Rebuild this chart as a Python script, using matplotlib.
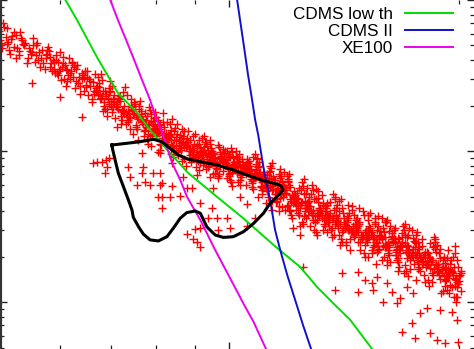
import matplotlib
matplotlib.use('Agg')
import matplotlib.pyplot as plt
from matplotlib.ticker import LogLocator, NullFormatter

# WIMP mass in GeV, cross section in units of 1e-40 cm^2

# signal-like events, one row per mass bin
band_mass_rows = [
    [4.95, 5.06, 5.01, 4.98, 5.03, 4.94, 5.05, 5.00, 4.97, 5.02],
    [5.17, 5.14, 5.22, 5.10, 5.19, 5.15, 5.11, 5.12, 5.21, 5.09],
    [5.27, 5.35, 5.30, 5.25, 5.36, 5.29, 5.33, 5.24, 5.38, 5.31],
    [5.47, 5.55, 5.40, 5.49, 5.53, 5.44, 5.46, 5.52, 5.42, 5.51],
    [5.61, 5.68, 5.64, 5.59, 5.58, 5.70, 5.63, 5.66, 5.57, 5.72],
    [5.75, 5.88, 5.80, 5.84, 5.74, 5.90, 5.78, 5.86, 5.82, 5.77, 5.89, 5.81, 5.85, 5.76],
    [6.08, 5.96, 6.04, 6.00, 5.95, 6.07, 5.99, 6.03, 5.94, 5.93, 6.05, 5.98, 6.02, 5.92],
    [6.17, 6.21, 6.12, 6.11, 6.24, 6.16, 6.20, 6.10, 6.26, 6.14, 6.22, 6.18, 6.13, 6.25],
    [6.40, 6.28, 6.46, 6.33, 6.42, 6.37, 6.31, 6.45, 6.36, 6.41, 6.30, 6.29, 6.44, 6.35],
    [6.57, 6.51, 6.65, 6.56, 6.61, 6.50, 6.49, 6.64, 6.55, 6.60, 6.48, 6.66, 6.53, 6.62],
    [6.69, 6.84, 6.75, 6.80, 6.68, 6.86, 6.73, 6.82, 6.77, 6.71, 6.85, 6.76, 6.81, 6.70,
     6.79, 6.74, 6.83, 6.72, 6.78, 6.87],
    [7.03, 6.97, 6.91, 7.06, 6.96, 7.02, 6.90, 6.99, 6.94, 7.04, 6.92, 6.98, 7.01, 6.89,
     7.05, 6.95, 7.00, 6.88, 7.07, 6.93],
    [7.11, 7.20, 7.15, 7.26, 7.13, 7.21, 7.25, 7.10, 7.27, 7.16, 7.22, 7.09, 7.29, 7.14,
     7.24, 7.19, 7.12, 7.28, 7.18, 7.23],
    [7.31, 7.51, 7.36, 7.46, 7.41, 7.34, 7.50, 7.40, 7.45, 7.33, 7.42, 7.37, 7.48, 7.35,
     7.43, 7.47, 7.32, 7.49, 7.38, 7.44],
    [7.71, 7.57, 7.66, 7.70, 7.54, 7.72, 7.60, 7.67, 7.53, 7.74, 7.58, 7.69, 7.63, 7.56,
     7.73, 7.62, 7.68, 7.55, 7.65, 7.59],
    [7.77, 7.96, 7.83, 7.90, 7.76, 7.98, 7.81, 7.93, 7.86, 7.79, 7.97, 7.85, 7.91, 7.78,
     7.88, 7.82, 7.95, 7.80, 7.89, 7.94, 7.84, 7.92, 7.87, 7.99],
    [8.03, 8.22, 8.09, 8.15, 8.02, 8.12, 8.06, 8.19, 8.04, 8.13, 8.18, 8.08, 8.16, 8.11,
     8.20, 8.01, 8.21, 8.07, 8.14, 8.00, 8.23, 8.05, 8.17, 8.10],
    [8.29, 8.38, 8.42, 8.33, 8.39, 8.36, 8.45, 8.26, 8.46, 8.32, 8.40, 8.25, 8.48, 8.30,
     8.43, 8.35, 8.28, 8.47, 8.34, 8.41, 8.27, 8.37, 8.31, 8.44],
    [8.74, 8.55, 8.68, 8.61, 8.53, 8.73, 8.59, 8.66, 8.52, 8.63, 8.56, 8.70, 8.54, 8.64,
     8.69, 8.58, 8.67, 8.62, 8.71, 8.51, 8.72, 8.57, 8.65, 8.50],
    [8.89, 8.82, 8.97, 8.80, 8.90, 8.96, 8.84, 8.94, 8.88, 8.98, 8.77, 8.99, 8.83, 8.92,
     8.76, 9.01, 8.81, 8.95, 8.87, 8.79, 9.00, 8.86, 8.93, 8.78],
    [9.04, 9.27, 9.10, 9.19, 9.03, 9.29, 9.08, 9.22, 9.14, 9.06, 9.28, 9.13, 9.20, 9.05,
     9.16, 9.09, 9.24, 9.07, 9.17, 9.23, 9.11, 9.21, 9.15, 9.26, 9.12, 9.18, 9.25, 9.16],
    [9.57, 9.36, 9.50, 9.42, 9.34, 9.56, 9.41, 9.48, 9.33, 9.44, 9.37, 9.52, 9.35, 9.45,
     9.51, 9.39, 9.49, 9.43, 9.54, 9.40, 9.46, 9.53, 9.44, 9.32, 9.55, 9.38, 9.47, 9.31],
    [9.70, 9.77, 9.61, 9.73, 9.65, 9.81, 9.63, 9.74, 9.80, 9.67, 9.78, 9.72, 9.83, 9.68,
     9.75, 9.82, 9.69, 9.60, 9.84, 9.66, 9.76, 9.59, 9.86, 9.64, 9.79, 9.71, 9.62, 9.85],
    [9.92, 10.03, 10.10, 9.96, 10.08, 10.01, 10.14, 9.97, 10.04, 10.12, 9.98, 9.89, 10.15, 9.95,
     10.06, 9.88, 10.17, 9.93, 10.09, 10.00, 9.91, 10.16, 9.99, 10.07, 9.90, 10.02, 9.94, 10.11],
    [10.45, 10.29, 10.35, 10.43, 10.26, 10.20, 10.46, 10.27, 10.37, 10.19, 10.48, 10.24, 10.40, 10.31,
     10.22, 10.47, 10.30, 10.38, 10.21, 10.33, 10.25, 10.42, 10.23, 10.34, 10.41, 10.28, 10.39, 10.32],
    [10.58, 10.69, 10.50, 10.80, 10.55, 10.72, 10.63, 10.53, 10.79, 10.62, 10.70, 10.52, 10.65, 10.56,
     10.74, 10.54, 10.66, 10.73, 10.59, 10.71, 10.64, 10.77, 10.60, 10.67, 10.75, 10.57, 10.51, 10.78],
    [10.95, 10.85, 11.12, 10.94, 11.02, 10.84, 10.97, 10.88, 11.06, 10.86, 10.98, 11.05, 10.91, 11.03,
     10.96, 11.10, 10.92, 10.99, 11.07, 10.89, 10.83, 11.11, 10.90, 11.01, 10.82, 11.13, 10.87, 11.04],
    [11.30, 11.21, 11.40, 11.19, 11.31, 11.39, 11.24, 11.37, 11.29, 11.44, 11.25, 11.33, 11.42, 11.22,
     11.16, 11.45, 11.23, 11.35, 11.15, 11.47, 11.20, 11.38, 11.28, 11.18, 11.46, 11.27, 11.36, 11.17],
    [11.59, 11.72, 11.64, 11.80, 11.60, 11.68, 11.78, 11.57, 11.50, 11.81, 11.58, 11.70, 11.49, 11.83,
     11.55, 11.74, 11.63, 11.52, 11.82, 11.62, 11.71, 11.51, 11.65, 11.56, 11.76, 11.54, 11.66, 11.75],
    [12.14, 11.93, 11.86, 12.17, 11.94, 12.06, 11.85, 12.19, 11.91, 12.10, 11.99, 11.88, 12.18, 11.98,
     12.07, 11.87, 12.01, 11.92, 12.12, 11.90, 12.02, 12.11, 11.95, 12.08, 12.00, 12.16, 11.96, 12.04],
    [12.43, 12.21, 12.56, 12.27, 12.47, 12.35, 12.24, 12.55, 12.34, 12.44, 12.23, 12.37, 12.28, 12.49,
     12.26, 12.38, 12.48, 12.31, 12.45, 12.36, 12.53, 12.32, 12.40, 12.51, 12.29, 12.22, 12.54, 12.30],
    [12.61, 12.94, 12.71, 12.82, 12.60, 12.74, 12.65, 12.87, 12.63, 12.75, 12.86, 12.68, 12.83, 12.73,
     12.91, 12.69, 12.78, 12.89, 12.66, 12.59, 12.93, 12.67, 12.81, 12.58, 12.95, 12.64, 12.85, 12.72],
    [13.04, 13.27, 13.02, 13.14, 13.26, 13.07, 13.23, 13.12, 13.31, 13.08, 13.17, 13.29, 13.05, 12.98,
     13.33, 13.06, 13.21, 12.97, 13.35, 13.03, 13.25, 13.11, 13.00, 13.34, 13.10, 13.22, 12.99, 13.13],
    [13.63, 13.52, 13.72, 13.48, 13.57, 13.70, 13.45, 13.38, 13.74, 13.46, 13.61, 13.37, 13.76, 13.43,
     13.65, 13.51, 13.40, 13.75, 13.50, 13.62, 13.39, 13.53, 13.44, 13.67, 13.42, 13.54, 13.66, 13.47],
    [13.86, 13.79, 14.16, 13.87, 14.03, 13.78, 14.18, 13.84, 14.07, 13.93, 13.81, 14.17, 13.92, 14.04,
     13.80, 13.95, 13.85, 14.09, 13.83, 13.96, 14.08, 13.88, 14.05, 13.94, 14.14, 13.89, 13.99, 14.12],
    [14.20, 14.62, 14.27, 14.50, 14.36, 14.23, 14.61, 14.35, 14.47, 14.22, 14.38, 14.28, 14.52, 14.26,
     14.39, 14.51, 14.31, 14.48, 14.37, 14.58, 14.32, 14.42, 14.56, 14.29, 14.21, 14.60, 14.30, 14.46],
    [15.06, 14.79, 14.92, 14.66, 14.82, 14.72, 14.97, 14.70, 14.83, 14.96, 14.75, 14.93, 14.81, 15.03,
     14.76, 14.87, 15.01, 14.73, 14.65, 15.05, 14.74, 14.91, 14.64, 15.07, 14.71, 14.95, 14.80, 14.67],
    [15.43, 15.16, 15.29, 15.42, 15.21, 15.39, 15.27, 15.49, 15.22, 15.33, 15.47, 15.19, 15.10, 15.51,
     15.20, 15.37, 15.09, 15.53, 15.17, 15.41, 15.26, 15.12, 15.52, 15.25, 15.38, 15.11, 15.28, 15.18],
    [15.73, 15.96, 15.68, 15.80, 15.94, 15.65, 15.56, 15.98, 15.66, 15.84, 15.55, 16.00, 15.63, 15.88,
     15.72, 15.58, 15.99, 15.71, 15.85, 15.57, 15.74, 15.64, 15.90, 15.62, 15.75, 15.89, 15.67, 15.86],
    [16.48, 16.13, 16.32, 16.02, 16.50, 16.10, 16.36, 16.20, 16.05, 16.49, 16.19, 16.33, 16.04, 16.22,
     16.11, 16.38, 16.09, 16.23, 16.37, 16.14, 16.34, 16.21, 16.46, 16.15, 16.27, 16.44, 16.12, 16.03],
    [16.86, 16.70, 16.55, 16.99, 16.69, 16.83, 16.54, 16.72, 16.61, 16.88, 16.59, 16.73, 16.87, 16.64,
     16.84, 16.71, 16.96, 16.65, 16.77, 16.94, 16.62, 16.53, 16.98, 16.63, 16.82, 16.52, 17.00, 16.60],
    [17.04, 17.24, 17.12, 17.41, 17.10, 17.25, 17.40, 17.15, 17.36, 17.23, 17.49, 17.16, 17.29, 17.47,
     17.13, 17.03, 17.51, 17.14, 17.34, 17.02, 17.53, 17.11, 17.39, 17.22, 17.06, 17.52, 17.21, 17.35],
    [17.94, 17.68, 17.90, 17.76, 18.03, 17.69, 17.82, 18.01, 17.66, 17.56, 18.05, 17.67, 17.88, 17.55,
     18.07, 17.64, 17.92, 17.75, 17.59, 18.06, 17.74, 17.89, 17.57, 17.77, 17.65, 17.95, 17.63, 17.78],
    [18.37, 18.56, 18.20, 18.10, 18.60, 18.21, 18.43, 18.09, 18.62, 18.18, 18.47, 18.30, 18.13, 18.61,
     18.29, 18.44, 18.11, 18.32, 18.19, 18.50, 18.17, 18.33, 18.49, 18.22, 18.45, 18.31, 18.58, 18.23],
    [18.74, 19.04, 18.86, 18.68, 19.18, 18.85, 19.01, 18.66, 18.88, 18.75, 19.07, 18.73, 18.89, 19.06,
     18.78, 19.02, 18.87, 19.15, 18.79, 18.94, 19.13, 18.76, 18.65, 19.17, 18.77, 19.00, 18.64, 19.19],
    [19.59, 19.23, 19.46, 19.32, 19.66, 19.30, 19.47, 19.65, 19.36, 19.60, 19.45, 19.74, 19.37, 19.52,
     19.71, 19.33, 19.22, 19.76, 19.35, 19.58, 19.21, 19.78, 19.31, 19.63, 19.44, 19.25, 19.77, 19.43],
    [19.83, 20.13, 19.92, 20.03, 19.82, 19.95, 19.87, 19.81, 20.12, 19.88, 20.02, 19.80, 20.14, 19.86,
     20.05, 19.93],
]
band_sigma_rows = [
    [5.9, 6.6, 5.2, 6.2, 4.8, 5.6, 7.0, 5.4, 6.4, 5.0],
    [5.5, 4.7, 6.1, 5.1, 5.8, 4.4, 6.5, 5.3, 4.9, 5.7],
    [4.8, 5.4, 4.3, 5.9, 5.1, 4.6, 5.6, 4.1, 5.0, 6.1],
    [4.6, 3.9, 5.2, 4.4, 5.6, 4.1, 4.8, 5.0, 3.8, 4.5],
    [4.0, 4.7, 3.6, 5.2, 4.3, 3.8, 4.5, 4.1, 5.0, 3.5],
    [4.1, 3.5, 4.6, 3.8, 4.3, 3.3, 4.9, 4.0, 3.6, 4.4, 3.9, 4.2, 3.4, 4.7],
    [3.7, 3.2, 4.2, 3.5, 3.9, 3.0, 4.5, 3.6, 3.3, 4.0, 3.8, 3.4, 2.95, 4.3],
    [3.3, 3.8, 2.9, 3.5, 3.1, 4.1, 3.4, 2.7, 3.6, 3.2, 3.9, 3.0, 3.45, 3.7],
    [3.0, 2.6, 3.4, 2.8, 3.2, 2.4, 3.7, 3.05, 2.7, 3.3, 2.9, 3.5, 2.5, 3.1],
    [2.7, 3.1, 2.4, 2.9, 2.2, 3.4, 2.75, 2.5, 3.0, 2.1, 2.65, 3.25, 2.35, 2.85],
    [2.45, 2.1, 2.8, 2.3, 2.6, 1.9, 3.1, 2.5, 2.2, 2.7, 2.0, 2.4, 2.95, 2.55,
     2.25, 2.65, 1.85, 2.35, 3.25, 2.5],
    [2.2, 2.5, 1.9, 2.35, 2.05, 2.7, 1.7, 2.15, 2.45, 1.95, 2.25, 2.9, 1.8, 2.3,
     2.1, 2.6, 2.0, 2.4, 1.65, 2.2],
    [1.95, 1.7, 2.25, 1.85, 2.1, 1.5, 2.45, 2.0, 1.75, 2.2, 1.6, 2.05, 2.65, 1.9,
     1.8, 2.3, 1.45, 1.98, 2.15, 1.88],
    [1.8, 2.05, 1.55, 1.9, 1.65, 2.35, 1.75, 1.4, 1.95, 1.7, 2.2, 1.85, 1.3, 1.6,
     2.0, 1.78, 1.5, 2.1, 1.68, 1.88],
    [1.6, 1.4, 1.85, 1.5, 1.72, 1.25, 2.0, 1.63, 1.45, 1.78, 1.18, 1.55, 2.15, 1.68,
     1.35, 1.9, 1.58, 1.48, 1.75, 1.62],
    [1.45, 1.65, 1.3, 1.55, 1.38, 1.8, 1.12, 1.5, 1.25, 1.7, 1.42, 1.95, 1.35, 1.6,
     1.08, 1.48, 1.58, 1.2, 1.75, 1.4, 1.52, 1.28, 1.88, 1.46],
    [1.32, 1.15, 1.48, 1.22, 1.38, 1.02, 1.6, 1.28, 1.42, 1.1, 1.78, 1.35, 1.18, 1.52,
     1.3, 1.25, 1.45, 0.99, 1.4, 1.68, 1.2, 1.33, 1.55, 1.12],
    [1.22, 1.38, 1.08, 1.28, 0.95, 1.5, 1.18, 1.32, 1.02, 1.25, 1.62, 1.15, 1.42, 1.2,
     0.92, 1.3, 1.12, 1.35, 1.24, 1.05, 1.55, 1.19, 1.27, 1.1],
    [1.12, 0.98, 1.25, 1.05, 1.3, 0.88, 1.16, 1.4, 1.08, 1.2, 0.94, 1.14, 1.5, 1.02,
     1.22, 1.1, 0.86, 1.28, 1.06, 1.18, 1.35, 1.0, 1.13, 1.24],
    [1.03, 1.15, 0.92, 1.08, 0.85, 1.25, 1.0, 0.96, 1.18, 1.05, 0.8, 1.12, 1.35, 0.98,
     1.06, 0.9, 1.22, 1.02, 0.94, 1.1, 1.3, 0.88, 1.04, 1.14],
    [0.96, 1.06, 0.86, 1.0, 0.78, 1.15, 0.93, 1.02, 0.83, 1.1, 0.97, 0.75, 1.22, 0.9,
     1.04, 0.95, 0.81, 1.08, 0.99, 0.88, 1.18, 0.94, 1.0, 0.84, 1.12, 0.91, 1.26, 0.98],
    [0.9, 0.8, 1.0, 0.87, 1.08, 0.72, 0.94, 0.84, 1.15, 0.92, 0.78, 0.97, 0.89, 1.04,
     0.7, 0.93, 0.85, 1.12, 0.95, 0.82, 0.99, 0.88, 1.18, 0.76, 0.91, 1.02, 0.86, 0.96],
    [0.85, 0.95, 0.77, 0.9, 0.68, 1.03, 0.83, 0.88, 0.74, 1.1, 0.86, 0.8, 0.97, 0.7,
     0.92, 0.84, 1.06, 0.79, 0.87, 0.66, 0.93, 0.82, 1.0, 0.76, 0.89, 0.98, 0.81, 0.86],
    [0.8, 0.72, 0.9, 0.76, 0.98, 0.64, 0.84, 0.78, 1.05, 0.82, 0.7, 0.88, 0.79, 0.93,
     0.62, 0.85, 0.75, 1.0, 0.81, 0.68, 0.87, 0.77, 0.95, 0.73, 0.83, 0.91, 0.66, 0.8],
    [0.77, 0.86, 0.7, 0.82, 0.62, 0.93, 0.75, 0.8, 0.67, 1.0, 0.78, 0.72, 0.88, 0.64,
     0.84, 0.76, 0.96, 0.71, 0.79, 0.6, 0.85, 0.74, 0.91, 0.69, 0.81, 0.89, 0.73, 0.78],
    [0.72, 0.65, 0.81, 0.69, 0.88, 0.58, 0.76, 0.71, 0.95, 0.74, 0.63, 0.79, 0.7, 0.85,
     0.56, 0.77, 0.68, 0.91, 0.73, 0.61, 0.8, 0.67, 0.86, 0.75, 0.64, 0.83, 0.6, 0.72],
    [0.67, 0.75, 0.6, 0.71, 0.52, 0.82, 0.65, 0.69, 0.57, 0.88, 0.68, 0.62, 0.78, 0.55,
     0.73, 0.66, 0.85, 0.59, 0.7, 0.5, 0.76, 0.64, 0.8, 0.58, 0.72, 0.63, 0.9, 0.67],
    [0.6, 0.54, 0.68, 0.57, 0.74, 0.47, 0.63, 0.59, 0.8, 0.61, 0.5, 0.66, 0.56, 0.71,
     0.45, 0.64, 0.58, 0.77, 0.62, 0.52, 0.69, 0.55, 0.73, 0.6, 0.49, 0.65, 0.83, 0.57],
    [0.55, 0.62, 0.49, 0.58, 0.43, 0.68, 0.53, 0.57, 0.46, 0.73, 0.56, 0.51, 0.64, 0.41,
     0.6, 0.54, 0.7, 0.48, 0.57, 0.4, 0.63, 0.52, 0.66, 0.47, 0.59, 0.55, 0.76, 0.5],
    [0.5, 0.44, 0.57, 0.47, 0.63, 0.38, 0.53, 0.49, 0.68, 0.51, 0.41, 0.55, 0.46, 0.6,
     0.36, 0.52, 0.48, 0.65, 0.5, 0.43, 0.58, 0.45, 0.62, 0.51, 0.4, 0.54, 0.7, 0.47],
    [0.45, 0.51, 0.4, 0.48, 0.34, 0.57, 0.44, 0.47, 0.38, 0.62, 0.46, 0.42, 0.53, 0.33,
     0.49, 0.44, 0.59, 0.39, 0.46, 0.32, 0.52, 0.43, 0.55, 0.37, 0.48, 0.41, 0.65, 0.45],
    [0.42, 0.37, 0.47, 0.39, 0.53, 0.32, 0.44, 0.41, 0.57, 0.43, 0.35, 0.46, 0.38, 0.5,
     0.3, 0.43, 0.4, 0.55, 0.42, 0.36, 0.48, 0.38, 0.52, 0.42, 0.34, 0.45, 0.6, 0.4],
    [0.39, 0.44, 0.35, 0.42, 0.3, 0.49, 0.38, 0.41, 0.33, 0.54, 0.4, 0.36, 0.46, 0.29,
     0.43, 0.38, 0.51, 0.34, 0.4, 0.28, 0.45, 0.37, 0.48, 0.32, 0.42, 0.36, 0.56, 0.39],
    [0.36, 0.32, 0.41, 0.34, 0.46, 0.28, 0.38, 0.35, 0.5, 0.37, 0.3, 0.4, 0.33, 0.44,
     0.27, 0.37, 0.35, 0.48, 0.36, 0.31, 0.42, 0.34, 0.45, 0.36, 0.29, 0.39, 0.52, 0.35],
    [0.34, 0.38, 0.31, 0.36, 0.26, 0.42, 0.33, 0.35, 0.29, 0.47, 0.34, 0.32, 0.4, 0.25,
     0.37, 0.33, 0.44, 0.3, 0.35, 0.24, 0.39, 0.32, 0.42, 0.28, 0.36, 0.31, 0.48, 0.34],
    [0.31, 0.28, 0.35, 0.29, 0.39, 0.24, 0.33, 0.3, 0.43, 0.32, 0.26, 0.34, 0.29, 0.37,
     0.22, 0.32, 0.3, 0.41, 0.31, 0.27, 0.36, 0.29, 0.38, 0.31, 0.25, 0.33, 0.44, 0.3],
    [0.29, 0.33, 0.26, 0.31, 0.22, 0.36, 0.28, 0.3, 0.25, 0.4, 0.29, 0.27, 0.34, 0.21,
     0.32, 0.28, 0.38, 0.25, 0.3, 0.2, 0.33, 0.27, 0.35, 0.24, 0.31, 0.26, 0.42, 0.29],
    [0.28, 0.25, 0.31, 0.26, 0.35, 0.22, 0.29, 0.27, 0.38, 0.28, 0.24, 0.3, 0.26, 0.33,
     0.2, 0.29, 0.27, 0.36, 0.28, 0.23, 0.32, 0.26, 0.34, 0.27, 0.21, 0.3, 0.39, 0.27],
    [0.26, 0.29, 0.235, 0.275, 0.2, 0.32, 0.25, 0.27, 0.22, 0.36, 0.26, 0.24, 0.3, 0.19,
     0.28, 0.25, 0.34, 0.225, 0.265, 0.18, 0.295, 0.245, 0.31, 0.215, 0.275, 0.235, 0.37, 0.26],
    [0.245, 0.22, 0.275, 0.23, 0.31, 0.19, 0.26, 0.24, 0.34, 0.25, 0.205, 0.27, 0.23, 0.295,
     0.175, 0.255, 0.24, 0.32, 0.25, 0.21, 0.285, 0.23, 0.3, 0.245, 0.185, 0.265, 0.35, 0.24],
    [0.23, 0.26, 0.205, 0.245, 0.17, 0.285, 0.22, 0.24, 0.19, 0.32, 0.23, 0.21, 0.27, 0.16,
     0.25, 0.22, 0.3, 0.195, 0.235, 0.155, 0.265, 0.215, 0.28, 0.185, 0.24, 0.205, 0.33, 0.225],
    [0.215, 0.19, 0.24, 0.2, 0.27, 0.165, 0.225, 0.21, 0.3, 0.22, 0.18, 0.235, 0.2, 0.255,
     0.148, 0.22, 0.205, 0.28, 0.215, 0.175, 0.25, 0.195, 0.265, 0.21, 0.16, 0.23, 0.31, 0.205],
    [0.2, 0.225, 0.18, 0.21, 0.15, 0.25, 0.195, 0.205, 0.165, 0.28, 0.2, 0.185, 0.235, 0.14,
     0.215, 0.19, 0.26, 0.17, 0.205, 0.135, 0.23, 0.188, 0.245, 0.16, 0.21, 0.178, 0.29, 0.198],
    [0.185, 0.165, 0.21, 0.175, 0.235, 0.14, 0.19, 0.18, 0.26, 0.188, 0.155, 0.2, 0.172, 0.225,
     0.128, 0.19, 0.178, 0.245, 0.183, 0.15, 0.215, 0.168, 0.23, 0.18, 0.135, 0.195, 0.27, 0.176],
    [0.17, 0.19, 0.152, 0.18, 0.128, 0.21, 0.165, 0.175, 0.142, 0.24, 0.17, 0.158, 0.195, 0.118,
     0.18, 0.163, 0.225, 0.148, 0.172, 0.115, 0.2, 0.16, 0.215, 0.138, 0.178, 0.155, 0.25, 0.168],
    [0.158, 0.14, 0.178, 0.148, 0.2, 0.12, 0.162, 0.152, 0.22, 0.16, 0.13, 0.17, 0.145, 0.19,
     0.108, 0.165, 0.15, 0.21, 0.157, 0.125, 0.182, 0.142, 0.195, 0.155, 0.115, 0.168, 0.235, 0.15],
    [0.14, 0.155, 0.125, 0.148, 0.108, 0.17, 0.135, 0.145, 0.118, 0.19, 0.138, 0.128, 0.16, 0.1,
     0.15, 0.132],
]

# events scattered away from the main band
tail_mass = [
    5.51, 6.00, 6.41,
    6.62, 6.70, 6.80, 6.88, 6.95, 6.90, 6.86,
    7.37, 7.71, 7.69, 7.94, 7.41, 7.75, 7.57, 7.87, 8.11, 8.06,
    7.69, 8.11, 8.16, 8.41, 8.16, 8.36, 8.62, 8.80, 8.93, 9.16,
    9.50, 9.36, 9.64, 9.93, 9.16, 9.67, 10.02, 9.02, 10.55, 10.81,
    11.38, 11.73, 12.02, 12.13, 12.38, 8.11, 8.41, 8.70, 9.07, 9.44,
    9.53, 10.08, 10.33, 10.55, 8.16, 8.80, 8.96, 9.07, 9.16,
    12.49, 14.06, 14.76, 15.39, 15.08, 13.77, 14.76, 15.44, 15.91, 16.61,
    16.76, 17.43, 16.86, 17.54, 18.74, 19.20, 19.97, 18.35, 17.37, 18.91,
    19.61, 19.91, 18.19, 16.11, 17.80, 19.91, 15.63, 16.36, 17.11,
]
tail_sigma = [
    2.82, 2.28, 1.68,
    0.83, 0.85, 0.84, 0.87, 0.90, 0.78, 0.72,
    0.786, 0.786, 0.716, 0.716, 0.67, 0.62, 0.60, 0.60, 0.60, 0.495,
    0.97, 0.716, 0.61, 0.59, 0.495, 0.495, 0.503, 0.573, 0.573, 0.456,
    0.42, 0.363, 0.363, 0.363, 0.31, 0.30, 0.31, 0.306, 0.32, 0.363,
    0.41, 0.427, 0.41, 0.31, 0.28, 0.974, 0.833, 0.67, 0.69, 0.67,
    0.573, 0.585, 0.495, 0.449, 0.42, 0.282, 0.26, 0.248, 0.233,
    0.171, 0.156, 0.158, 0.134, 0.14, 0.12, 0.116, 0.12, 0.0999, 0.0984,
    0.106, 0.115, 0.063, 0.058, 0.056, 0.0535, 0.0543, 0.062, 0.0727, 0.089,
    0.0865, 0.076, 0.092, 0.134, 0.085, 0.108, 0.146, 0.116, 0.126,
]

# closed contour of the favoured region
region_mass = [7.01, 7.33, 7.64, 7.95, 8.15, 8.36, 8.57, 8.84, 9.16, 9.63,
               10.12, 10.54, 11.08, 11.66, 11.76, 11.60, 11.31, 11.08, 10.76, 10.43,
               10.12, 9.82, 9.58, 9.34, 9.16, 9.02, 8.79, 8.62, 8.44, 8.28,
               8.07, 7.87, 7.71, 7.60, 7.48, 7.45, 7.37, 7.26, 7.15, 7.08,
               7.03, 7.01]
region_sigma = [1.096, 1.125, 1.153, 1.196, 1.153, 1.042, 0.941, 0.881, 0.850, 0.808,
                0.749, 0.694, 0.636, 0.596, 0.552, 0.511, 0.451, 0.387, 0.332, 0.292,
                0.271, 0.268, 0.278, 0.315, 0.387, 0.401, 0.391, 0.359, 0.308, 0.271,
                0.254, 0.258, 0.282, 0.315, 0.364, 0.407, 0.474, 0.581, 0.712, 0.872,
                1.016, 1.096]

# exclusion limits
lowth_mass = [6.03, 6.31, 6.70, 7.14, 7.57, 7.87, 8.29, 8.83, 9.64, 10.42,
              11.55, 12.38, 13.03, 13.68, 14.41, 15.39, 15.77]
lowth_sigma = [10.96, 7.372, 4.195, 2.423, 1.786, 1.378, 1.016, 0.715, 0.496, 0.360,
               0.228, 0.171, 0.126, 0.0984, 0.0761, 0.0489, 0.0413]
cdms2_mass = [10.20, 10.42, 10.58, 10.71, 10.81, 10.91, 11.07, 11.31, 11.48, 11.66,
              11.91, 12.20, 12.49, 12.80, 12.99]
cdms2_sigma = [11.30, 5.435, 3.188, 2.178, 1.605, 1.277, 0.808, 0.474, 0.300, 0.221,
               0.151, 0.103, 0.0705, 0.0489, 0.0401]
xe100_mass = [6.93, 7.14, 7.32, 7.50, 7.68, 7.87, 8.01, 8.14, 8.26, 8.41,
              8.62, 8.80, 9.16, 9.58, 10.05, 10.46, 10.76, 10.88, 11.17, 11.31]
xe100_sigma = [10.96, 7.372, 5.435, 4.007, 2.954, 2.178, 1.655, 1.378, 1.096, 0.833,
               0.643, 0.496, 0.349, 0.221, 0.140, 0.0954, 0.0738, 0.0653, 0.0489, 0.0426]

limit_labels = ['CDMS low th', 'CDMS II', 'XE100']
limit_colors = ['#00dd00', '#1010cc', '#ee00ee']

for i, (mr, sr) in enumerate(zip(band_mass_rows, band_sigma_rows)):
    assert len(mr) == len(sr), (i, len(mr), len(sr))
band_mass = sum(band_mass_rows, [])
band_sigma = sum(band_sigma_rows, [])

plt.rcParams['font.family'] = ['Liberation Sans', 'DejaVu Sans']

fig = plt.figure(figsize=(4.74, 3.49), dpi=100)
ax = fig.add_axes([0, 0, 1, 1])
ax.set_xscale('log')
ax.set_yscale('log')

ax.plot(band_mass + tail_mass, band_sigma + tail_sigma, linestyle='None',
        marker='+', color='#ff0000', markersize=6, markeredgewidth=1.0)

limits = [(lowth_mass, lowth_sigma), (cdms2_mass, cdms2_sigma), (xe100_mass, xe100_sigma)]
for (m, s), c in zip(limits, limit_colors):
    ax.plot(m, s, color=c, linewidth=1.4)
ax.plot(region_mass, region_sigma, color='black', linewidth=2.2)

ax.set_xlim(5, 20.94)
ax.set_ylim(0.0489, 10)

for axis in (ax.xaxis, ax.yaxis):
    axis.set_major_locator(LogLocator(base=10, numticks=20))
    axis.set_minor_locator(LogLocator(base=10, subs=range(2, 10), numticks=20))
    axis.set_major_formatter(NullFormatter())
    axis.set_minor_formatter(NullFormatter())
ax.tick_params(which='both', direction='in', top=True, right=True, color='#222222')
ax.tick_params(which='major', length=5, width=1.0)
ax.tick_params(which='minor', length=3, width=0.9)

for side in ('top', 'right', 'bottom'):
    ax.spines[side].set_visible(False)
ax.spines['left'].set_linewidth(3)
ax.spines['left'].set_color('#333333')

# key in the upper right, text right-aligned before the line sample
rows_y = [0.946, 0.897, 0.848]
for label, c, y in zip(limit_labels, limit_colors, rows_y):
    ax.text(0.829, y, label, transform=ax.transAxes, ha='right', va='baseline',
            fontsize=12.3, color='black')
    ax.plot([0.854, 0.956], [y + 0.017, y + 0.017], transform=ax.transAxes,
            color=c, linewidth=1.4, clip_on=False)

fig.savefig('out.png', dpi=100)
